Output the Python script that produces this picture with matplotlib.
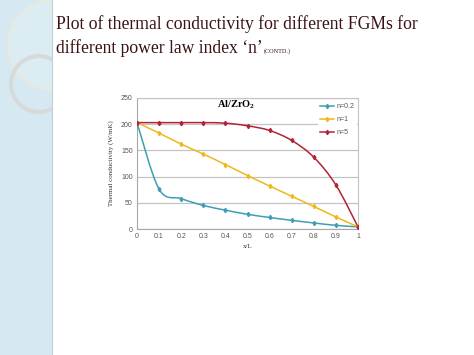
import numpy as np
import matplotlib
matplotlib.use("Agg")
import matplotlib.pyplot as plt
from matplotlib.path import Path
from matplotlib.patches import PathPatch, Rectangle, Circle

plt.rcParams["mathtext.fontset"] = "custom"
plt.rcParams["mathtext.rm"] = "Liberation Serif"
plt.rcParams["mathtext.bf"] = "Liberation Serif:bold"

# ---------------- data ----------------
x_vals = [0, 0.1, 0.2, 0.3, 0.4, 0.5, 0.6, 0.7, 0.8, 0.9, 1.0]
k_n02 = [203, 76, 58, 45, 36, 28, 22, 16.5, 11.5, 7, 4]
k_n1 = [203, 183, 162, 143, 123, 102, 82, 62.5, 43, 23, 4]
k_n5 = [203, 203, 203, 203, 202, 197, 188, 169, 137, 84, 4]
series_labels = ["n=0.2", "n=1", "n=5"]
x_ticks = [0, 0.1, 0.2, 0.3, 0.4, 0.5, 0.6, 0.7, 0.8, 0.9, 1]
x_tick_labels = ["0", "0.1", "0.2", "0.3", "0.4", "0.5", "0.6", "0.7", "0.8", "0.9", "1"]
y_ticks = [0, 50, 100, 150, 200, 250]

colors = ["#3f9db5", "#f0b81c", "#b32336"]

W, H = 474, 355
fig = plt.figure(figsize=(W / 100, H / 100), dpi=100)
fig.patch.set_facecolor("white")

# ---------------- slide background ----------------
bg = fig.add_axes([0, 0, 1, 1])
bg.set_xlim(0, W)
bg.set_ylim(H, 0)
bg.axis("off")
strip = Rectangle((0, 0), 52, H, facecolor="#d6e9f2", edgecolor="none")
bg.add_patch(strip)
bg.plot([52, 52], [0, H], color="#b9cfd9", lw=0.8)
c1 = Circle((53, 45), 45, facecolor="#dbecf3", edgecolor="#efe8d2", lw=1.1)
c2 = Circle((39, 84), 28, facecolor="none", edgecolor="#d6dada", lw=3.0)
bg.add_patch(c1)
bg.add_patch(c2)
c1.set_clip_path(strip)
c2.set_clip_path(strip)

# ---------------- slide title ----------------
title_color = "#3a1414"
fig.text(56 / W, 1 - 29 / H, "Plot of thermal conductivity for different FGMs for",
         family="Liberation Serif", fontsize=12.7, color=title_color, va="baseline")
t2 = fig.text(56 / W, 1 - 53 / H, "different power law index \u2018n\u2019",
              family="Liberation Serif", fontsize=12.7, color=title_color, va="baseline")
fig.canvas.draw()
bb = t2.get_window_extent()
fig.text(bb.x1 / W + 0.002, 1 - 53 / H, "(CONTD.)", family="Liberation Serif",
         fontsize=4.5, color=title_color, va="baseline")

# ---------------- chart ----------------
left, right, top, bottom = 137, 358, 98, 229
ax = fig.add_axes([left / W, 1 - bottom / H, (right - left) / W, (bottom - top) / H])
ax.set_xlim(0, 1)
ax.set_ylim(0, 250)
ax.set_facecolor("white")
ax.set_yticks(y_ticks)
ax.set_xticks(x_ticks)
ax.set_xticklabels(x_tick_labels)
ax.yaxis.grid(True, color="#c4c4c4", lw=0.9)
ax.set_axisbelow(True)
for s in ["left", "bottom"]:
    ax.spines[s].set_color("#a8a8a8")
    ax.spines[s].set_linewidth(0.8)
for s in ["top", "right"]:
    ax.spines[s].set_color("#c4c4c4")
    ax.spines[s].set_linewidth(0.8)
ax.tick_params(length=0, labelsize=5, labelcolor="#555555", pad=3)
for lab in ax.get_xticklabels() + ax.get_yticklabels():
    lab.set_family("Liberation Sans")


def smooth_path(xs, ys):
    pts = np.column_stack([xs, ys]).astype(float)
    n = len(pts)
    verts = [pts[0]]
    codes = [Path.MOVETO]
    for i in range(n - 1):
        p0 = pts[i - 1] if i > 0 else pts[i]
        p1 = pts[i]
        p2 = pts[i + 1]
        p3 = pts[i + 2] if i + 2 < n else pts[i + 1]
        cA = p1 + (p2 - p0) / 6.0
        cB = p2 - (p3 - p1) / 6.0
        verts += [cA, cB, p2]
        codes += [Path.CURVE4] * 3
    return Path(verts, codes)


for ys, col, lab in zip([k_n02, k_n1, k_n5], colors, series_labels):
    ax.add_patch(PathPatch(smooth_path(x_vals, ys), fill=False, edgecolor=col, lw=1.1,
                           zorder=3))
    ax.plot(x_vals, ys, linestyle="none", marker="d", markersize=2.2, color=col,
            zorder=4)
    ax.plot([], [], color=col, lw=1.1, marker="d", markersize=2.2, label=lab)

leg = ax.legend(loc="upper right", bbox_to_anchor=(1.0, 0.985), frameon=True,
                handlelength=2.0, labelspacing=0.85, handletextpad=0.4,
                borderaxespad=0.2, borderpad=0.3, labelcolor="#555555",
                prop={"family": "Liberation Sans", "size": 5})
leg.get_frame().set_edgecolor("none")
leg.get_frame().set_facecolor("white")
leg.get_frame().set_alpha(1)

ax.text(0.448, 0.945, r"$\mathbf{Al/ZrO_2}$", transform=ax.transAxes, ha="center",
        va="center", fontsize=7.5)
ax.set_ylabel("Thermal conductivity (W/mK)", family="Liberation Serif", fontsize=5,
              color="#333333", labelpad=5)
ax.set_xlabel("x/L", family="Liberation Serif", fontsize=5, color="#333333", labelpad=3)

fig.savefig("out.png", dpi=100)
